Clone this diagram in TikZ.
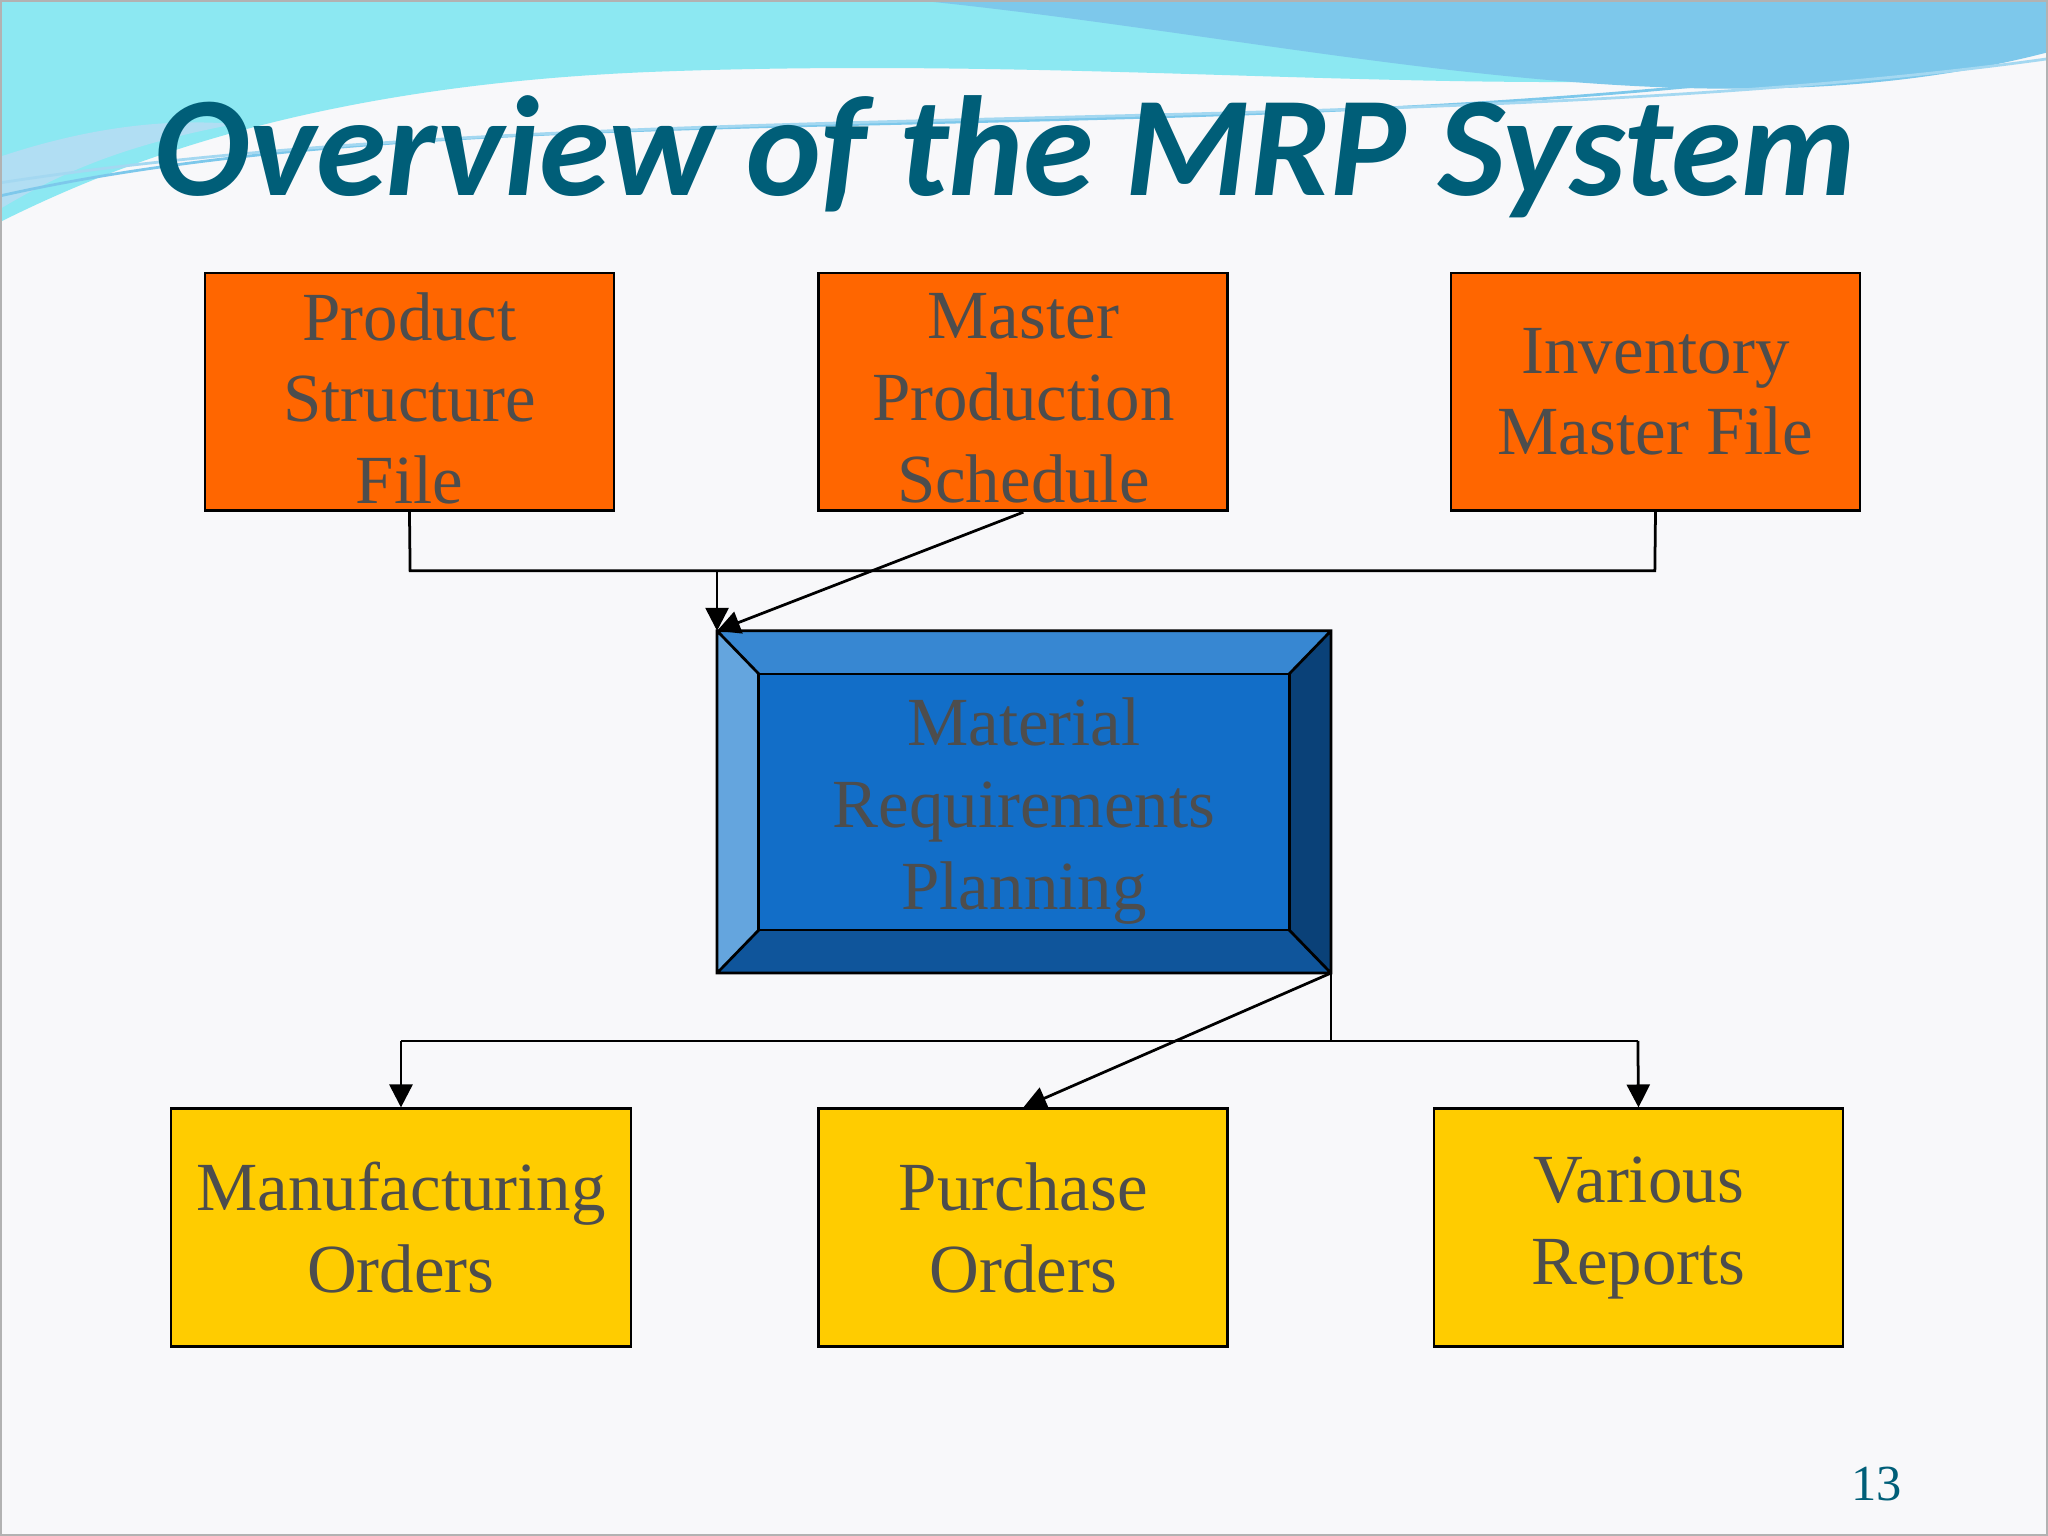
\documentclass[tikz,border=0pt]{standalone}
\usepackage{fontspec}
\setmainfont{Liberation Serif}
\newfontfamily\titlefont{Carlito}
\usetikzlibrary{arrows.meta}
\definecolor{bg}{RGB}{248,248,250}
\definecolor{org}{RGB}{255,102,0}
\definecolor{yel}{RGB}{255,204,0}
\definecolor{txt}{RGB}{77,77,77}
\definecolor{ttl}{RGB}{0,94,120}
\definecolor{wa}{RGB}{140,232,242}
\definecolor{wb}{RGB}{125,200,235}
\begin{document}
\begin{tikzpicture}[x=0.01cm,y=-0.01cm,
  box/.style={draw=black,line width=0.6pt,minimum width=3.13cm,minimum height=1.82cm,inner sep=0pt,
    font=\fontsize{15}{17.8}\selectfont,text=txt,align=center},
  lbl/.style={font=\fontsize{15}{17.8}\selectfont,text=txt,align=center,inner sep=0pt},
  con/.style={draw=black,line width=0.6pt},
  arr/.style={con,-{Triangle[length=5pt,width=5pt]}}]
\fill[bg] (0,0) rectangle (1568,1176);
\useasboundingbox (0,0) rectangle (1568,1176);
% waves
\fill[wa] (0,0) -- (1568,0) -- (1568,40) .. controls (1200,90) and (900,40) .. (500,55) .. controls (250,65) and (100,120) .. (0,170) -- cycle;
\fill[wb] (700,0) .. controls (1000,30) and (1300,110) .. (1568,40) -- (1568,0) -- cycle;
\fill[wb!60!white] (0,120) .. controls (60,100) and (120,90) .. (180,95) .. controls (100,110) and (50,130) .. (0,160) -- cycle;
\draw[wb,line width=0.6pt] (0,150) .. controls (400,60) and (1000,130) .. (1568,30);
\draw[wb!70!white,line width=0.6pt] (0,140) .. controls (450,70) and (1100,110) .. (1568,45);
\node[font=\titlefont\bfseries\itshape\fontsize{31}{36}\selectfont,text=ttl] (title) at (770,120) {Overview of the MRP System};
% top boxes
\node[box,fill=org] (psf) at (313.5,300) {};
\node[lbl] (psft) at (313.5,305) {Product\\Structure\\File};
\node[box,fill=org] (mps) at (783.5,300) {};
\node[lbl] (mpst) at (783.5,305) {Master\\Production\\Schedule};
\node[box,fill=org] (imf) at (1267.5,300) {Inventory\\Master File};
% MRP bevel
\coordinate (o1) at (549,483); \coordinate (o2) at (1019,483);
\coordinate (o3) at (1019,745); \coordinate (o4) at (549,745);
\coordinate (i1) at (581,516); \coordinate (i2) at (987,516);
\coordinate (i3) at (987,712); \coordinate (i4) at (581,712);
\fill[fill={rgb,255:red,55;green,135;blue,210}] (o1)--(o2)--(i2)--(i1)--cycle;
\fill[fill={rgb,255:red,100;green,165;blue,222}] (o1)--(i1)--(i4)--(o4)--cycle;
\fill[fill={rgb,255:red,10;green,65;blue,120}] (o2)--(o3)--(i3)--(i2)--cycle;
\fill[fill={rgb,255:red,15;green,85;blue,155}] (o4)--(i4)--(i3)--(o3)--cycle;
\draw[black,line width=0.6pt] (o1)--(o2)--(o3)--(o4)--cycle (o1)--(i1) (o2)--(i2) (o3)--(i3) (o4)--(i4);
\node[box,fill={rgb,255:red,18;green,110;blue,200},minimum width=4.06cm,minimum height=1.96cm] (mrp) at (784,614) {};
\node[lbl] (mrpt) at (784,621) {Material\\Requirements\\Planning};
% bottom boxes
\node[box,fill=yel,minimum width=3.52cm] (mo) at (307,940) {Manufacturing\\Orders};
\node[box,fill=yel] (po) at (783.5,940) {Purchase\\Orders};
\node[box,fill=yel] (vr) at (1254.5,940) {Various\\Reports};
% connectors
\coordinate (j1) at (314,437); \coordinate (j2) at (1267,437); \coordinate (j3) at (549,437);
\draw[con] (psf.south) -- (j1) -- (j2) -- (imf.south);
\draw[arr] (j3) -- (o1);
\draw[arr] (mps.south) -- (o1);
\coordinate (b0) at (1019,797); \coordinate (b1) at (307,797); \coordinate (b2) at (1254,797);
\draw[con] (o3) -- (b0);
\draw[con] (b1) -- (b2);
\draw[arr] (b1) -- (mo.north);
\draw[arr] (b2) -- (vr.north);
\draw[arr] (o3) -- (po.north);
\node[font=\fontsize{11}{13}\selectfont,text=ttl] (pg) at (1437,1136) {13};
\draw[gray!60,line width=0.8pt] (0,0) rectangle (1568,1176);
\end{tikzpicture}
\end{document}
